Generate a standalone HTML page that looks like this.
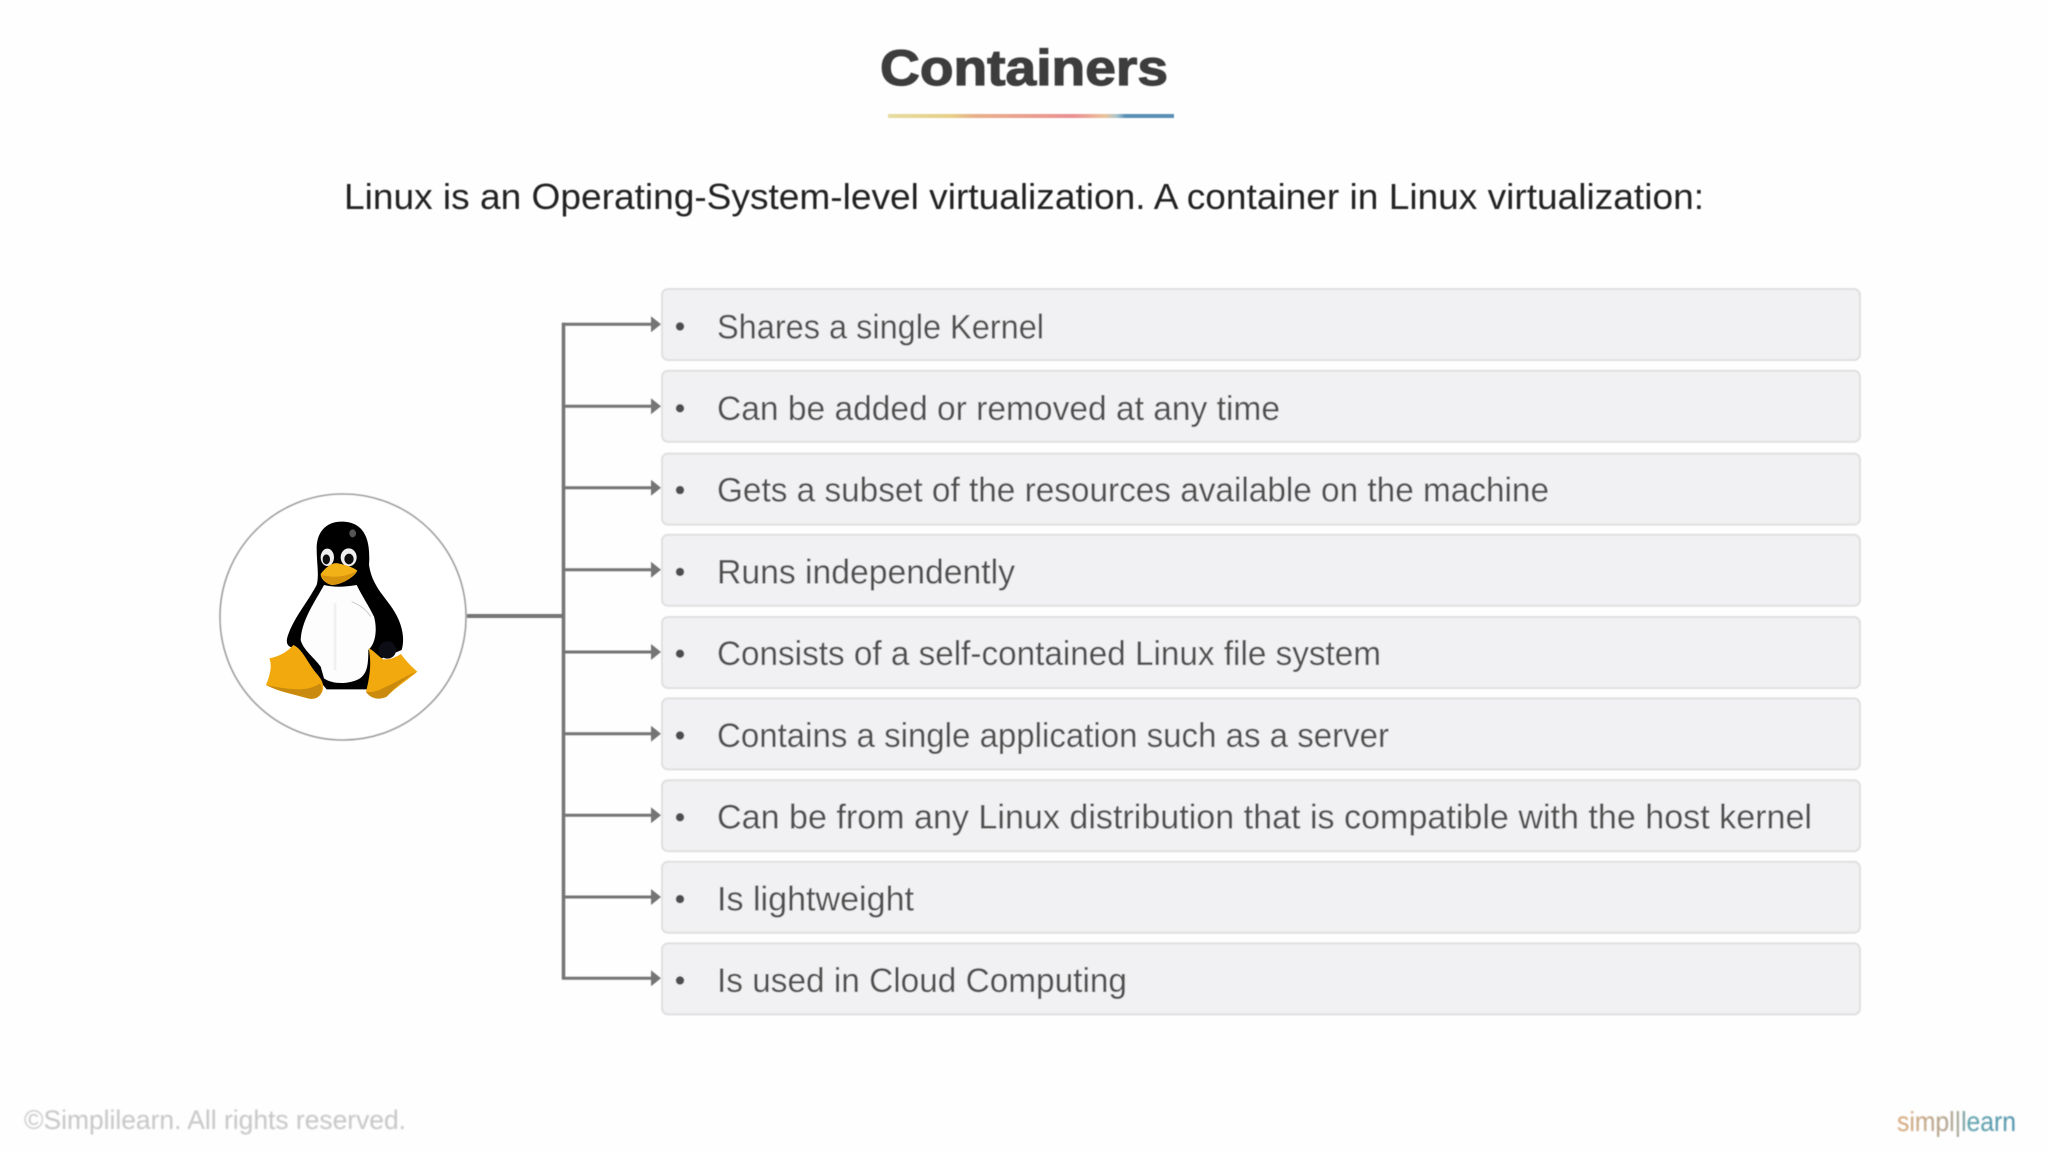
<!DOCTYPE html>
<html>
<head>
<meta charset="utf-8">
<style>
html,body{margin:0;padding:0;background:#fff;width:2048px;height:1152px;overflow:hidden}
svg{display:block}
text{font-family:"Liberation Sans",sans-serif}
</style>
</head>
<body>
<svg width="2048" height="1152" viewBox="0 0 2048 1152" xmlns="http://www.w3.org/2000/svg">
<defs>
<linearGradient id="u" x1="0" x2="1" y1="0" y2="0">
<stop offset="0" stop-color="#e6dca0"/>
<stop offset=".22" stop-color="#e6cf85"/>
<stop offset=".3" stop-color="#e8b08a"/>
<stop offset=".65" stop-color="#ea8f92"/>
<stop offset=".76" stop-color="#e9c39a"/>
<stop offset=".8" stop-color="#a9c4cc"/>
<stop offset=".83" stop-color="#5a8fb5"/>
<stop offset="1" stop-color="#5a8fb5"/>
</linearGradient>
<linearGradient id="l" x1="0" x2="1" y1="0" y2="0">
<stop offset="0" stop-color="#d9a878"/>
<stop offset=".5" stop-color="#a8a090"/>
<stop offset=".6" stop-color="#5fa2ad"/>
<stop offset="1" stop-color="#4a8fa8"/>
</linearGradient>
<filter id="b" x="-5%" y="-20%" width="110%" height="140%"><feGaussianBlur stdDeviation="0.45"/></filter>
<filter id="b2" x="-5%" y="-20%" width="110%" height="140%"><feGaussianBlur stdDeviation="0.9"/></filter>
<filter id="b3" x="-5%" y="-5%" width="110%" height="110%"><feGaussianBlur stdDeviation="0.9"/></filter>
</defs>
<rect width="2048" height="1152" fill="#fefefe"/>

<g filter="url(#b)">
<text x="880" y="85" font-size="50" font-weight="700" fill="#3e3c3c" stroke="#3e3c3c" stroke-width="1.2" textLength="288" lengthAdjust="spacingAndGlyphs">Containers</text>
<rect x="888" y="114" width="286" height="4" fill="url(#u)"/>
<text x="344" y="209" font-size="36" fill="#222" textLength="1360" lengthAdjust="spacingAndGlyphs">Linux is an Operating-System-level virtualization. A container in Linux virtualization:</text>

<g fill="#f1f1f3" stroke="#e0e0e0" stroke-width="2">
<rect x="662" y="289" width="1198" height="71" rx="6"/>
<rect x="662" y="370.8" width="1198" height="71" rx="6"/>
<rect x="662" y="453.6" width="1198" height="71" rx="6"/>
<rect x="662" y="534.8" width="1198" height="71" rx="6"/>
<rect x="662" y="617" width="1198" height="71" rx="6"/>
<rect x="662" y="698.4" width="1198" height="71" rx="6"/>
<rect x="662" y="780.2" width="1198" height="71" rx="6"/>
<rect x="662" y="861.8" width="1198" height="71" rx="6"/>
<rect x="662" y="943.4" width="1198" height="71" rx="6"/>
</g>

<g fill="#4d4d4d">
<circle cx="680" cy="326.5" r="4.2"/>
<circle cx="680" cy="408.3" r="4.2"/>
<circle cx="680" cy="490.1" r="4.2"/>
<circle cx="680" cy="571.9" r="4.2"/>
<circle cx="680" cy="653.7" r="4.2"/>
<circle cx="680" cy="735.5" r="4.2"/>
<circle cx="680" cy="817.3" r="4.2"/>
<circle cx="680" cy="899.1" r="4.2"/>
<circle cx="680" cy="980.5" r="4.2"/>
</g>

<g fill="#4f4f4f" font-size="34">
<text x="717" y="338.5" textLength="327" lengthAdjust="spacingAndGlyphs">Shares a single Kernel</text>
<text x="717" y="420" textLength="563" lengthAdjust="spacingAndGlyphs">Can be added or removed at any time</text>
<text x="717" y="501.5" textLength="832" lengthAdjust="spacingAndGlyphs">Gets a subset of the resources available on the machine</text>
<text x="717" y="583.5" textLength="298" lengthAdjust="spacingAndGlyphs">Runs independently</text>
<text x="717" y="665" textLength="664" lengthAdjust="spacingAndGlyphs">Consists of a self-contained Linux file system</text>
<text x="717" y="747" textLength="672" lengthAdjust="spacingAndGlyphs">Contains a single application such as a server</text>
<text x="717" y="828.5" textLength="1095" lengthAdjust="spacingAndGlyphs">Can be from any Linux distribution that is compatible with the host kernel</text>
<text x="717" y="910.5" textLength="197" lengthAdjust="spacingAndGlyphs">Is lightweight</text>
<text x="717" y="992" textLength="410" lengthAdjust="spacingAndGlyphs">Is used in Cloud Computing</text>
</g>

<g fill="none" stroke="#747474" stroke-width="3">
<path d="M563.5 322.8V979.5" stroke-width="3.5"/>
<path d="M562 324.3H655M562 406.3H655M562 487.8H655M562 569.8H655M562 652H655M562 733.7H655M562 815.3H655M562 897H655M562 978.2H655"/>
<path d="M467 616H563" stroke-width="4"/>
</g>
<g fill="#747474">
<path d="M651 316.3l10 8-10 8z"/>
<path d="M651 398.3l10 8-10 8z"/>
<path d="M651 479.8l10 8-10 8z"/>
<path d="M651 561.8l10 8-10 8z"/>
<path d="M651 644l10 8-10 8z"/>
<path d="M651 725.7l10 8-10 8z"/>
<path d="M651 807.3l10 8-10 8z"/>
<path d="M651 889l10 8-10 8z"/>
<path d="M651 970.2l10 8-10 8z"/>
</g>

<circle cx="343" cy="617" r="123" fill="#fff" stroke="#9a9a9a" stroke-width="1.6"/>
</g>

<!-- penguin -->
<g transform="translate(200 470) scale(.33333)" filter="url(#b3)">
<path d="M425 155C375 155 350 190 350 235C350 280 358 315 350 345C320 400 285 440 266 490C256 515 260 528 275 532L340 610L380 658L505 658L545 565L605 540C618 495 600 445 570 405C545 370 515 340 507 285C510 240 510 155 425 155Z" fill="#050505"/>
<path d="M372 345C345 395 305 450 302 510C310 540 340 560 362 590L372 625C395 642 445 645 480 625C500 610 505 590 505 540C528 520 532 475 522 440C505 405 490 385 470 345C430 352 400 352 372 345Z" fill="#fdfdfd"/>
<path d="M455 395C480 405 500 420 512 440" stroke="#c9c9c9" stroke-width="3" fill="none"/>
<path d="M405 400V600" stroke="#f0f0f0" stroke-width="8" fill="none"/>
<ellipse cx="382" cy="262" rx="20" ry="26" fill="#efefef"/>
<ellipse cx="446" cy="262" rx="24" ry="27" fill="#efefef"/>
<ellipse cx="379" cy="268" rx="11" ry="15" fill="#111"/>
<ellipse cx="447" cy="267" rx="14" ry="16" fill="#111"/>
<path d="M362 312C375 295 395 275 415 280C440 285 465 295 472 302C465 320 425 345 395 345C375 340 362 325 362 312Z" fill="#f2b113"/>
<path d="M365 315C400 325 440 320 470 303C455 325 420 345 395 345C378 340 368 328 365 315Z" fill="#d8930c"/>
<path d="M208 565C235 560 260 548 280 525C305 535 322 575 345 605C362 625 374 640 368 662C360 682 345 692 320 684C280 672 235 665 198 645C208 620 218 590 208 565Z" fill="#f1a90f"/>
<path d="M360 640C365 650 368 660 362 672C350 688 335 688 320 684C280 672 235 665 198 645C250 655 320 670 360 640Z" fill="#c98a10"/>
<path d="M506 535C520 540 530 555 550 568C570 570 590 560 603 552C615 570 635 590 652 605C630 625 590 650 560 680C535 692 510 685 498 665C510 620 515 575 506 535Z" fill="#f1a90f"/>
<path d="M650 605C620 625 585 650 560 680C535 692 510 685 498 665C530 675 590 630 650 605Z" fill="#c98a10"/>
<ellipse cx="562" cy="540" rx="26" ry="26" fill="#0a0a14"/>
<ellipse cx="458" cy="190" rx="10" ry="12" fill="#555"/>
</g>

<text x="24" y="1129" font-size="27" fill="#c6c6c6" filter="url(#b2)" textLength="382" lengthAdjust="spacingAndGlyphs">©Simplilearn. All rights reserved.</text>
<text x="1897" y="1131" font-size="28" fill="url(#l)" filter="url(#b2)" textLength="119" lengthAdjust="spacingAndGlyphs">simpl|learn</text>
</svg>
</body>
</html>
